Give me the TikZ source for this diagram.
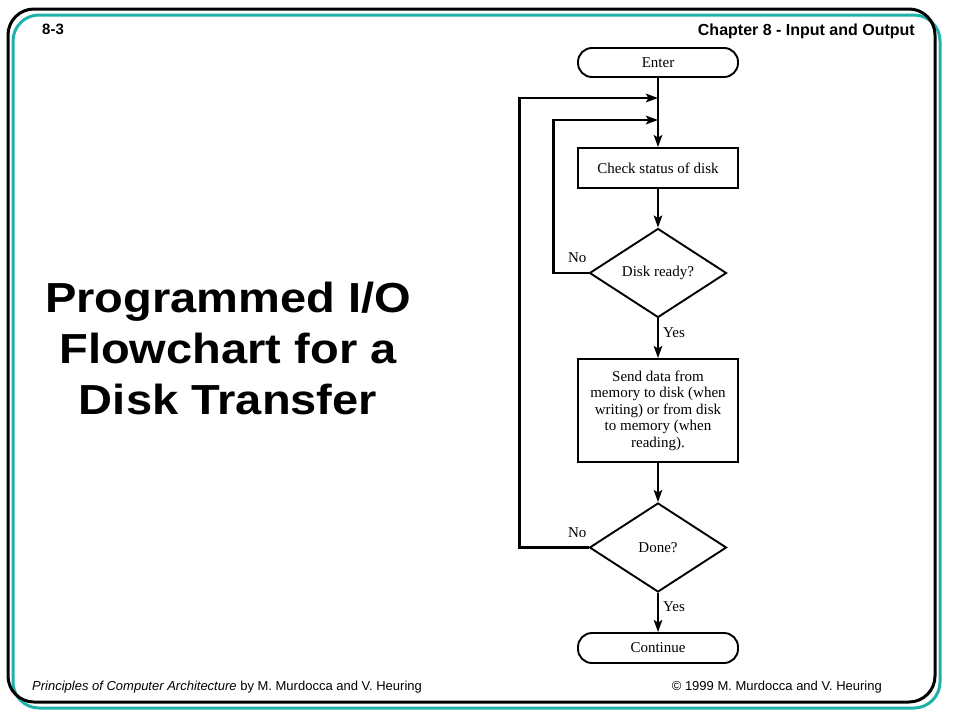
\documentclass[tikz,border=0pt]{standalone}
\usepackage{fontspec}
\setmainfont{Liberation Sans}
\newfontfamily\flowfont{Liberation Serif}
\newfontfamily\titlefont[FakeStretch=1.12]{Liberation Sans}
\usetikzlibrary{shapes.geometric,arrows.meta}
\definecolor{slideteal}{RGB}{32,178,170}
\begin{document}
\begin{tikzpicture}
[x=1pt,y=-1pt,
  flowtext/.style={font=\flowfont\fontsize{15}{16.5}\selectfont},
  boxdecorate/.style={shape=rectangle,draw,line width=1.9pt,minimum width=160pt,inner sep=2pt,align=center,flowtext},
  termdecorate/.style={boxdecorate,rounded corners=14pt},
  testdecorate/.style={shape=diamond,draw,line width=1.9pt,minimum width=137pt,minimum height=89pt,inner sep=0pt,flowtext},
  linedecorate/.style={-{Stealth[length=12pt,width=8.5pt,inset=2.5pt]},line width=2.2pt},
  labeldecorate/.style={inner sep=1pt,flowtext},
  slidetext/.style={inner sep=0pt,font=\fontsize{13}{15}\selectfont}]
\useasboundingbox (0,0) rectangle (960,720);
%% slide frame
\draw[slideteal,line width=3pt,rounded corners=26pt] (13,15) rectangle (940,708);
\draw[black,line width=3pt,rounded corners=26pt] (8,9) rectangle (935,702);
%% slide texts
\node (page) at (42,34) [slidetext,anchor=base west,font=\bfseries\fontsize{15}{18}\selectfont] {8-3};
\node (chapter) at (915,35) [slidetext,anchor=base east,font=\bfseries\fontsize{16}{19}\selectfont] {Chapter 8 - Input and Output};
\node (title) at (228,348) [align=center,font=\titlefont\bfseries\fontsize{42}{51}\selectfont] {Programmed I/O\\Flowchart for a\\Disk Transfer};
\node (book) at (32,690) [slidetext,anchor=base west] {\textit{Principles of Computer Architecture} by M. Murdocca and V. Heuring};
\node (copy) at (882,690) [slidetext,anchor=base east] {© 1999 M. Murdocca and V. Heuring};
%% nodes or vertices
\node (enter) at (658,62.5) [termdecorate,minimum height=29pt] {Enter};
\node (check) at (658,168) [boxdecorate,minimum height=40pt] {Check status of disk};
\node (ready) at (658,273) [testdecorate] {Disk ready?};
\node (send) at (658,410.5) [boxdecorate,minimum height=103pt] {Send data from\\memory to disk (when\\writing) or from disk\\to memory (when\\reading).};
\node (done) at (658,547.5) [testdecorate] {Done?};
\node (cont) at (658,648) [termdecorate,minimum height=30pt] {Continue};
\coordinate (join1) at (658,98);
\coordinate (join2) at (658,120);
%% edges or lines
\path
\foreach \startnode/\endnode in {enter/check, check/ready, send/done} {
  (\startnode) edge[linedecorate] (\endnode)
};
\path
\foreach \startnode/\endnode/\where in {ready/send/0.37, done/cont/0.35} {
  (\startnode) edge[linedecorate] node[labeldecorate,pos=\where,right=3pt] {Yes} (\endnode)
};
%% loops back
\draw[linedecorate] (ready.west) node[labeldecorate,above left,yshift=8pt] {No} -- ++(-35,0) |- (join2);
\draw[linedecorate] (done.west) node[labeldecorate,above left,yshift=8pt] {No} -- ++(-69,0) |- (join1);
\end{tikzpicture}
\end{document}
